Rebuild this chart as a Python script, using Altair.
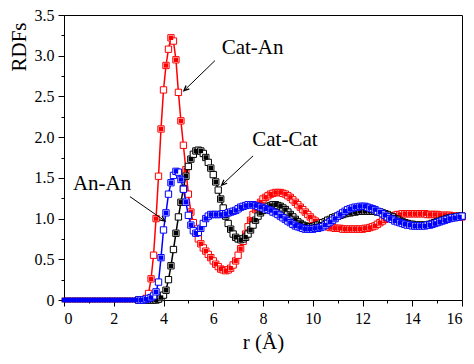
import altair as alt
import pandas as pd

# r grid (Å), 0.0 .. 16.0 step 0.1
R = [round(0.1 * i, 1) for i in range(161)]

# RDF values (0.0 .. 16.0, step 0.1)
cat_an = [
    0.0, 0.0, 0.0, 0.0, 0.0, 0.0, 0.0, 0.0, 0.0, 0.0,
    0.0, 0.0, 0.0, 0.0, 0.0, 0.0, 0.0, 0.0, 0.0, 0.0,
    0.0, 0.0, 0.0, 0.0, 0.0, 0.0, 0.0, 0.0, 0.0, 0.0,
    0.00, 0.00, 0.00, 0.02, 0.08, 0.26, 0.55, 1.00, 1.52, 2.10,
    2.58, 2.88, 3.08, 3.22, 3.18, 2.95, 2.55, 2.20, 1.90, 1.60,
    1.30, 1.08, 0.95, 0.83, 0.75, 0.69, 0.64, 0.60, 0.56, 0.52,
    0.48, 0.44, 0.41, 0.38, 0.37, 0.36, 0.37, 0.39, 0.43, 0.48,
    0.55, 0.63, 0.72, 0.81, 0.90, 0.98, 1.05, 1.11, 1.16, 1.20,
    1.24, 1.26, 1.28, 1.30, 1.31, 1.32, 1.32, 1.32, 1.31, 1.30,
    1.28, 1.26, 1.23, 1.20, 1.17, 1.14, 1.11, 1.08, 1.05, 1.02,
    0.99, 0.97, 0.95, 0.93, 0.92, 0.91, 0.90, 0.89, 0.89, 0.88,
    0.88, 0.88, 0.87, 0.87, 0.87, 0.87, 0.87, 0.87, 0.87, 0.87,
    0.87, 0.88, 0.88, 0.89, 0.90, 0.91, 0.93, 0.95, 0.97, 0.99,
    1.00, 1.02, 1.03, 1.04, 1.05, 1.05, 1.06, 1.06, 1.06, 1.06,
    1.06, 1.06, 1.06, 1.06, 1.06, 1.06, 1.05, 1.05, 1.05, 1.05,
    1.05, 1.04, 1.04, 1.04, 1.04, 1.04, 1.03, 1.03, 1.03, 1.02,
    1.02,
]

cat_cat = [
    0.0, 0.0, 0.0, 0.0, 0.0, 0.0, 0.0, 0.0, 0.0, 0.0,
    0.0, 0.0, 0.0, 0.0, 0.0, 0.0, 0.0, 0.0, 0.0, 0.0,
    0.0, 0.0, 0.0, 0.0, 0.0, 0.0, 0.0, 0.0, 0.0, 0.0,
    0.00, 0.00, 0.00, 0.00, 0.00, 0.00, 0.00, 0.00, 0.01, 0.03,
    0.06, 0.12, 0.25, 0.42, 0.62, 0.82, 1.02, 1.20, 1.37, 1.52,
    1.64, 1.73, 1.79, 1.83, 1.84, 1.83, 1.80, 1.75, 1.69, 1.62,
    1.54, 1.45, 1.35, 1.24, 1.13, 1.03, 0.94, 0.87, 0.81, 0.77,
    0.75, 0.74, 0.75, 0.77, 0.81, 0.86, 0.92, 0.98, 1.03, 1.07,
    1.10, 1.13, 1.15, 1.16, 1.17, 1.17, 1.16, 1.15, 1.13, 1.11,
    1.08, 1.05, 1.02, 0.99, 0.96, 0.94, 0.92, 0.91, 0.90, 0.90,
    0.90, 0.91, 0.92, 0.93, 0.95, 0.96, 0.98, 0.99, 1.01, 1.02,
    1.03, 1.04, 1.05, 1.06, 1.07, 1.07, 1.08, 1.08, 1.09, 1.09,
    1.09, 1.09, 1.09, 1.09, 1.09, 1.09, 1.08, 1.08, 1.07, 1.06,
    1.05, 1.03, 1.02, 1.00, 0.99, 0.97, 0.96, 0.95, 0.94, 0.93,
    0.93, 0.92, 0.92, 0.92, 0.92, 0.92, 0.92, 0.93, 0.94, 0.95,
    0.96, 0.97, 0.98, 0.99, 1.00, 1.01, 1.01, 1.02, 1.02, 1.03,
    1.03,
]

an_an = [
    0.0, 0.0, 0.0, 0.0, 0.0, 0.0, 0.0, 0.0, 0.0, 0.0,
    0.0, 0.0, 0.0, 0.0, 0.0, 0.0, 0.0, 0.0, 0.0, 0.0,
    0.0, 0.0, 0.0, 0.0, 0.0, 0.0, 0.0, 0.0, 0.0, 0.0,
    0.00, 0.00, 0.00, 0.01, 0.02, 0.03, 0.05, 0.10, 0.22, 0.52,
    0.86, 1.07, 1.30, 1.44, 1.53, 1.58, 1.57, 1.48, 1.36, 1.20,
    1.04, 0.92, 0.85, 0.82, 0.83, 0.88, 0.94, 1.00, 1.03, 1.05,
    1.05, 1.05, 1.05, 1.05, 1.06, 1.06, 1.07, 1.08, 1.09, 1.10,
    1.12, 1.14, 1.15, 1.16, 1.17, 1.17, 1.17, 1.16, 1.15, 1.14,
    1.13, 1.12, 1.11, 1.10, 1.08, 1.07, 1.05, 1.03, 1.01, 0.99,
    0.97, 0.95, 0.93, 0.91, 0.90, 0.89, 0.88, 0.87, 0.87, 0.87,
    0.87, 0.88, 0.88, 0.89, 0.90, 0.92, 0.94, 0.96, 0.98, 1.00,
    1.03, 1.05, 1.07, 1.09, 1.11, 1.12, 1.13, 1.14, 1.14, 1.15,
    1.15, 1.15, 1.14, 1.13, 1.12, 1.11, 1.09, 1.08, 1.06, 1.04,
    1.02, 1.00, 0.99, 0.97, 0.96, 0.95, 0.94, 0.93, 0.92, 0.92,
    0.91, 0.91, 0.91, 0.91, 0.91, 0.91, 0.92, 0.92, 0.93, 0.94,
    0.95, 0.96, 0.97, 0.98, 0.99, 1.00, 1.01, 1.01, 1.02, 1.02,
    1.03,
]

series_names = ["Cat-An", "Cat-Cat", "An-An"]
series_values = [cat_an, cat_cat, an_an]
series_colors = ["#ff0000", "#000000", "#0000ff"]

# annotations
label_text = ["Cat-An", "Cat-Cat", "An-An"]
label_r = [7.58, 8.88, 1.53]
label_g = [3.10, 1.96, 1.42]
arrow_r0 = [6.07, 7.60, 2.65]
arrow_g0 = [2.94, 1.77, 1.27]
arrow_r1 = [4.82, 6.34, 4.06]
arrow_g1 = [2.57, 1.41, 0.97]
arrow_angle = [226, 226, 125]

FONT = "Times New Roman, Liberation Serif, Times, serif"

y_ticks = [i * 0.25 for i in range(15)]
x_ticks = list(range(17))

x_axis = alt.Axis(
    values=x_ticks,
    title="r (Å)",
    labelExpr="datum.value % 2 == 0 ? datum.label : ''",
    labelOverlap=False,
    tickSize={"condition": {"test": "datum.value % 2 == 0", "value": 6}, "value": 3},
    labelFontSize=16,
    labelPadding=4,
    titleFontSize=21,
    titleY=42,
    titleBaseline="middle",
)
y_axis = alt.Axis(
    values=y_ticks,
    title="",
    labelExpr="datum.value == 0 ? '0' : (abs(datum.value * 2 - round(datum.value * 2)) < 0.01 ? format(datum.value, '.1f') : '')",
    labelOverlap=False,
    tickSize={"condition": {"test": "abs(datum.value * 2 - round(datum.value * 2)) < 0.01", "value": 6}, "value": 3},
    labelFontSize=16,
    labelPadding=4,
)
x_scale = alt.Scale(domain=[0, 16], nice=False, zero=False)
y_scale = alt.Scale(domain=[0, 3.5], nice=False)


def X(field):
    return alt.X(field, type="quantitative", scale=x_scale, axis=x_axis)


def Y(field):
    return alt.Y(field, type="quantitative", scale=y_scale, axis=y_axis)


layers = []
for name, vals, col in zip(series_names, series_values, series_colors):
    d = pd.DataFrame({"r": R, "g": vals, "idx": list(range(len(R)))})
    base = alt.Chart(d)
    layers.append(base.mark_line(color=col, strokeWidth=1.5).encode(x=X("r"), y=Y("g")))
    layers.append(
        base.transform_filter("datum.r >= 2.95")
        .mark_point(shape="square", fill="white", fillOpacity=1, stroke=col,
                    strokeWidth=1, size=40, opacity=1)
        .encode(x=X("r"), y=Y("g"))
    )
    layers.append(
        base.transform_filter("datum.idx % 2 == 1 || datum.r < 2.95")
        .mark_point(shape="square", filled=True, color=col, size=20, opacity=1)
        .encode(x=X("r"), y=Y("g"))
    )

arrows = pd.DataFrame({"r0": arrow_r0, "g0": arrow_g0, "r1": arrow_r1,
                       "g1": arrow_g1, "ang": arrow_angle})
layers.append(
    alt.Chart(arrows).mark_rule(color="black", strokeWidth=1)
    .encode(x=X("r0"), y=Y("g0"), x2="r1", y2="g1")
)
layers.append(
    alt.Chart(arrows).mark_point(shape="M-0.45,1L0,0L0.45,1", filled=False,
                                 stroke="black", strokeWidth=1.3, size=110, opacity=1)
    .encode(x=X("r1"), y=Y("g1"), angle=alt.Angle("ang:Q", scale=None))
)
labels = pd.DataFrame({"t": label_text, "r": label_r, "g": label_g})
layers.append(
    alt.Chart(labels).mark_text(font=FONT, fontSize=21, align="center",
                                baseline="middle", color="black")
    .encode(x=X("r"), y=Y("g"), text="t:N")
)
# y-axis title, rotated, near the top of the axis as in the reference
ytitle = pd.DataFrame({"t": ["RDFs"]})
layers.append(
    alt.Chart(ytitle).mark_text(font=FONT, fontSize=21, angle=270, align="center",
                                baseline="middle", color="black")
    .encode(x=alt.value(-44), y=alt.value(32), text="t:N")
)

chart = (
    alt.layer(*layers)
    .properties(
        width=398,
        height=285,
        autosize=alt.AutoSizeParams(type="none"),
        padding={"left": 56, "top": 7, "right": 4, "bottom": 56},
        background="white",
    )
    .configure_view(stroke="black", strokeWidth=1)
    .configure_axis(
        grid=False,
        domainColor="black",
        domainWidth=1,
        tickColor="black",
        tickWidth=1,
        labelColor="black",
        titleColor="black",
        labelFont=FONT,
        titleFont=FONT,
        titleFontWeight="normal",
    )
)

chart.save("out.html", embed_options={"renderer": "svg", "actions": False})
